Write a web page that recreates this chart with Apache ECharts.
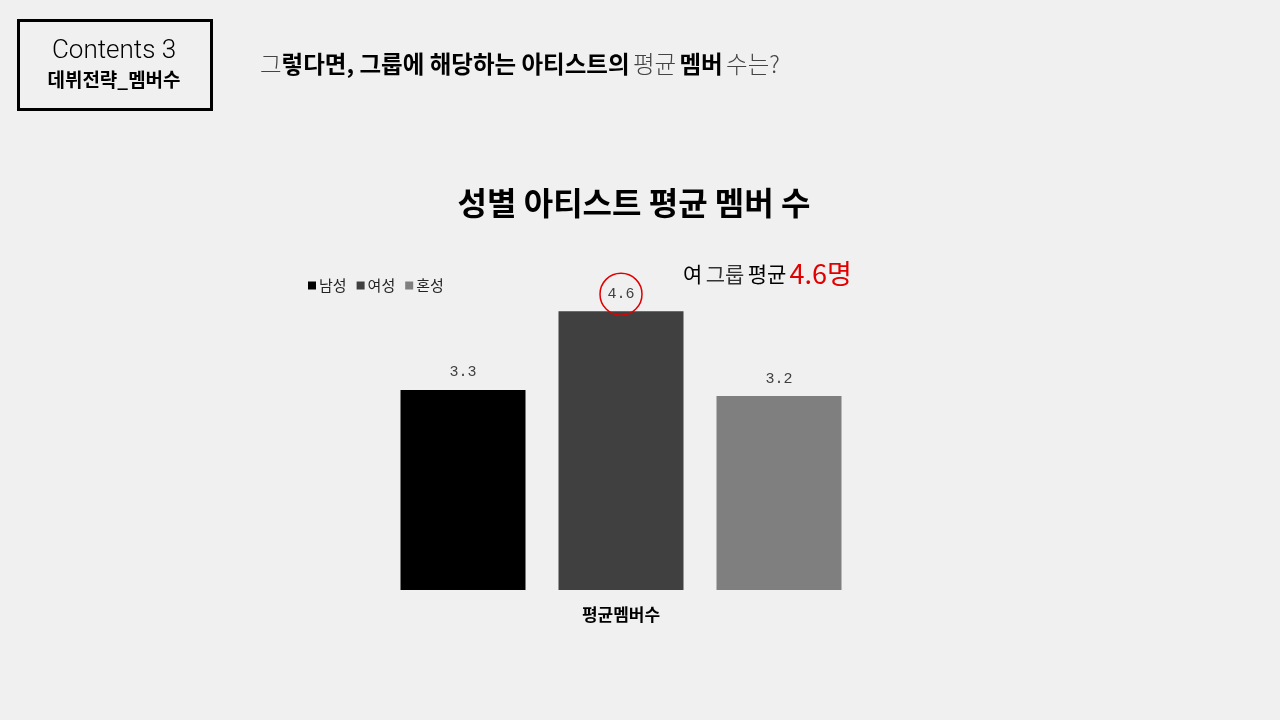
<!DOCTYPE html>
<html><head><meta charset="utf-8">
<script src="https://cdn.jsdelivr.net/npm/echarts@6/dist/echarts.min.js"></script>
<style>html,body{margin:0;padding:0;background:#f0f0f0}#c{width:1280px;height:720px}</style>
</head><body><div id="c"></div>
<script>
const categories = ['평균멤버수'];
const seriesNames = ['남성', '여성', '혼성'];
const maleValues = [3.3];
const femaleValues = [4.6];
const mixedValues = [3.2];
const colors = ['#000000', '#404040', '#7f7f7f'];
const KR = '"Noto Sans CJK KR", "Noto Sans", sans-serif';

const chart = echarts.init(document.getElementById('c'));
const labelBase = {show: true, position: 'top', distance: 10, fontFamily: '"Liberation Mono", monospace', fontSize: 15, color: '#404040', formatter: p => p.value.toFixed(1)};
chart.setOption({
  backgroundColor: '#f0f0f0',
  title: {text: '성별 아티스트 평균 멤버 수', left: 629, top: 182, textAlign: 'center',
    textStyle: {fontFamily: KR, fontSize: 32, fontWeight: 'bold', color: '#000'}},
  legend: {data: seriesNames, left: 303, top: 273, itemWidth: 8, itemHeight: 8, itemGap: 10, icon: 'rect',
    textStyle: {fontFamily: KR, fontSize: 15, color: '#222', padding: [0,0,0,-2]}},
  grid: {left: 381, right: 419, top: 287, bottom: 130},
  xAxis: {type: 'category', data: categories, axisLine: {show: false}, axisTick: {show: false},
    axisLabel: {margin: 16, fontFamily: KR, fontSize: 17, fontWeight: 'bold', color: '#000'}},
  yAxis: {type: 'value', min: 0, max: 5, show: false, splitLine: {show: false}},
  series: [
    {name: seriesNames[0], type: 'bar', data: maleValues, barWidth: 125, barGap: '26.4%', itemStyle: {color: colors[0]}, label: labelBase},
    {name: seriesNames[1], type: 'bar', data: femaleValues, barWidth: 125, barGap: '26.4%', itemStyle: {color: colors[1]},
      label: Object.assign({}, labelBase, {distance: -4, width: 42, height: 42, lineHeight: 42, align: 'center',
        borderColor: '#e00000', borderWidth: 1.5, borderRadius: 22})},
    {name: seriesNames[2], type: 'bar', data: mixedValues, barWidth: 125, barGap: '26.4%', itemStyle: {color: colors[2]}, label: labelBase}
  ],
  graphic: [
    {type: 'rect', shape: {x: 18.5, y: 20.5, width: 193, height: 89}, style: {fill: 'none', stroke: '#000', lineWidth: 3}},
    {type: 'text', x: 114, y: 51, style: {text: 'Contents 3', fontFamily: 'Roboto, sans-serif', fontSize: 26, fontWeight: 300, fill: '#000', align: 'center', verticalAlign: 'middle'}},
    {type: 'text', x: 114, y: 80, style: {text: '데뷔전략_멤버수', fontFamily: KR, fontSize: 19, fontWeight: 'bold', fill: '#000', align: 'center', verticalAlign: 'middle'}},
    {type: 'text', x: 260, y: 64, style: {
      text: '{l|그}{b|렇다면, 그룹에 해당하는 아티스트의} {l|평균} {b|멤버} {l|수는?}',
      verticalAlign: 'middle',
      rich: {
        l: {fontFamily: KR, fontSize: 23.5, fill: '#444', fontWeight: 300},
        b: {fontFamily: KR, fontSize: 23.5, fill: '#000', fontWeight: 'bold'}
      }}},
    {type: 'text', x: 683, y: 274, style: {
      text: '{a|여} {g|그룹} {a|평균} {r|' + femaleValues[0].toFixed(1) + '명}',
      verticalAlign: 'middle',
      rich: {
        a: {fontFamily: KR, fontSize: 21, fill: '#000'},
        g: {fontFamily: KR, fontSize: 21, fill: '#333'},
        r: {fontFamily: KR, fontSize: 27, fill: '#e00000'}
      }}}
  ]
});
</script></body></html>
